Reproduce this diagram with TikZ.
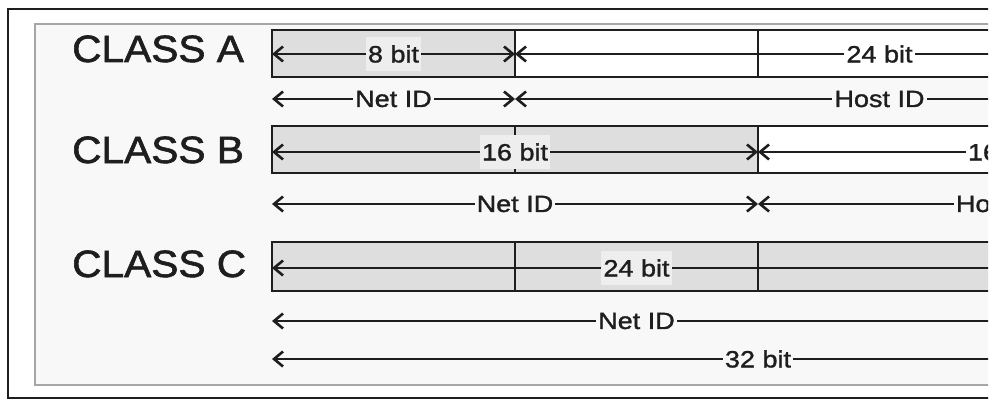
\documentclass[tikz,border=0pt]{standalone}
\usepackage{fontspec}
\setmainfont{Liberation Sans}
\newfontfamily\bigf[FakeStretch=1.07,FakeBold=1.6]{Liberation Sans}
\newfontfamily\smf[FakeStretch=1.15,FakeBold=1.4]{Liberation Sans}
\usetikzlibrary{arrows.meta}
\definecolor{bg}{HTML}{F8F8F8}
\definecolor{cellgray}{HTML}{DEDEDE}
\definecolor{labgray}{HTML}{EEEEEE}
\definecolor{ink}{HTML}{1E1E1E}
\begin{document}
\begin{tikzpicture}[x=1pt,y=-1pt,
 cell/.style={draw=ink, line width=2.4pt},
 tip/.tip={Straight Barb[length=9pt,width=15pt,line width=2.6pt]},
 dim/.style={draw=ink, line width=2.2pt, tip-tip},
 lab/.style={font=\smf\fontsize{23.5}{23.5}\selectfont, text=ink, inner xsep=2pt, inner ysep=8pt, fill=bg},
 labw/.style={lab, fill=white},
 labg/.style={lab, fill=labgray},
 cls/.style={font=\bigf\fontsize{38}{38}\selectfont, text=ink, anchor=base west, inner sep=0pt}]
\useasboundingbox (0,0) rectangle (998,412);
\fill[white] (0,0) rectangle (998,412);
\begin{scope}
\clip (0,0) rectangle (988,412);
\draw[ink, line width=2.5pt] (8,9) rectangle (1100,398);
\filldraw[fill=bg, draw=gray!70, line width=1.2pt] (35,24) rectangle (1100,385);

% class labels
\node[cls] (ca) at (72,62) {CLASS A};
\node[cls] (cb) at (72,163) {CLASS B};
\node[cls] (cc) at (72,277) {CLASS C};

% ---- Class A
\fill[white] (515,30) rectangle (1244,77);
\fill[cellgray] (272,30) rectangle (515,77);
\draw[cell] (272,30) rectangle (1244,77);
\draw[cell] (515,30) -- (515,77) (758,30) -- (758,77) (1001,30) -- (1001,77);
\coordinate (a0) at (272,54);
\coordinate (a1) at (515,54);
\coordinate (a4) at (1244,54);
\draw[dim] (a0) -- node[labg] (la1) {8 bit} (a1);
\draw[dim] (a1) -- node[labw] (la2) {24 bit} (a4);
\coordinate (an0) at (272,99);
\coordinate (an1) at (515,99);
\coordinate (an4) at (1244,99);
\draw[dim] (an0) -- node[lab] (lan1) {Net ID} (an1);
\draw[dim] (an1) -- node[lab] (lan2) {Host ID} (an4);

% ---- Class B
\fill[white] (758,126) rectangle (1244,173);
\fill[cellgray] (272,126) rectangle (758,173);
\draw[cell] (272,126) rectangle (1244,173);
\draw[cell] (515,126) -- (515,173) (758,126) -- (758,173) (1001,126) -- (1001,173);
\coordinate (b0) at (272,152);
\coordinate (b2) at (758,152);
\coordinate (b4) at (1244,152);
\draw[dim] (b0) -- node[labg] (lb1) {16 bit} (b2);
\draw[dim] (b2) -- node[labw] (lb2) {16 bit} (b4);
\coordinate (bn0) at (272,204);
\coordinate (bn2) at (758,204);
\coordinate (bn4) at (1244,204);
\draw[dim] (bn0) -- node[lab] (lbn1) {Net ID} (bn2);
\draw[dim] (bn2) -- node[lab] (lbn2) {Host ID} (bn4);

% ---- Class C
\fill[cellgray] (272,242) rectangle (1244,291);
\draw[cell] (272,242) rectangle (1244,291);
\draw[cell] (515,242) -- (515,291) (758,242) -- (758,291) (1001,242) -- (1001,291);
\coordinate (c0) at (272,268);
\coordinate (c3) at (1001,268);
\coordinate (c4) at (1244,268);
\draw[dim] (c0) -- node[labg] (lc1) {24 bit} (c3);
\draw[dim] (c3) -- (c4);
\coordinate (cn0) at (272,321);
\coordinate (cn3) at (1001,321);
\draw[dim] (cn0) -- node[lab] (lcn1) {Net ID} (cn3);
\coordinate (t0) at (272,359);
\coordinate (t4) at (1244,359);
\draw[dim] (t0) -- node[lab] (lt) {32 bit} (t4);
\end{scope}
\end{tikzpicture}
\end{document}
